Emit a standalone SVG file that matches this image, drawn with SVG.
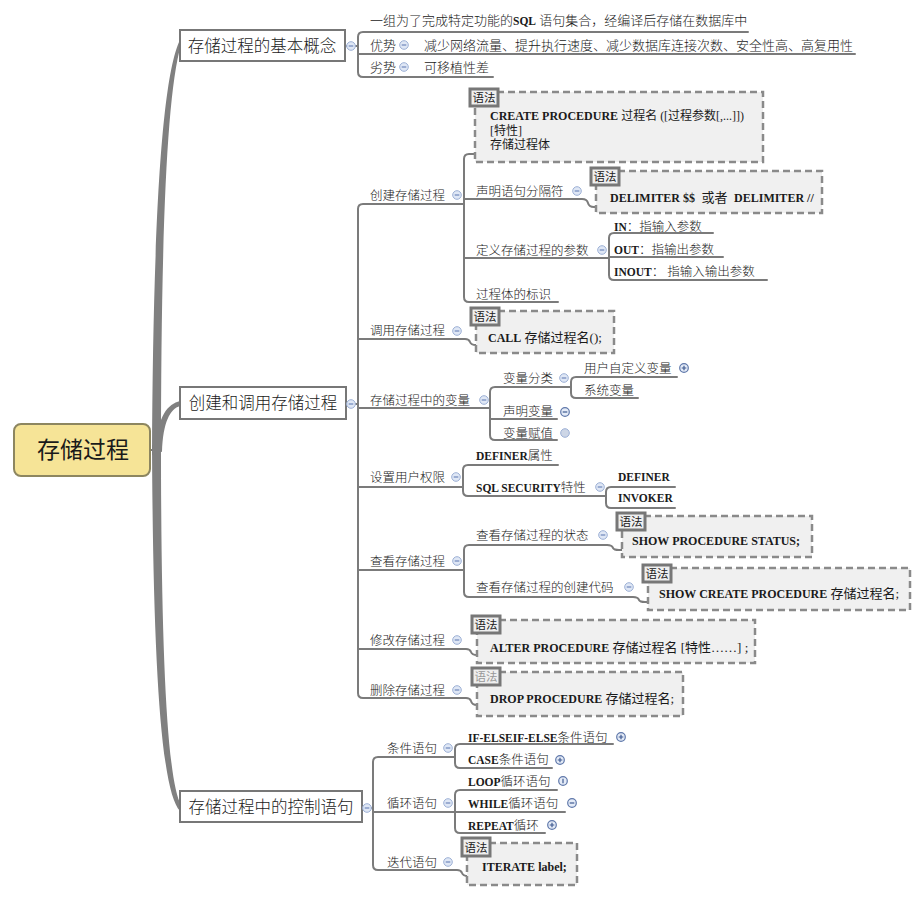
<svg xmlns="http://www.w3.org/2000/svg" width="924" height="900" viewBox="0 0 924 900">
<style>
.ln{fill:none;stroke:#7b7b7b;stroke-width:2;stroke-linecap:round;stroke-linejoin:round}
.t{font-family:"Liberation Serif","Noto Sans CJK SC",serif;font-size:12.5px;fill:#1a1a1a;font-weight:300}
.t13{font-size:13px}
.b{font-weight:bold;font-size:11.5px}
.big{font-size:16.5px}
.root{font-size:23px;font-weight:400}
.box{fill:#ffffff;stroke:#777;stroke-width:2}
.co{fill:#f0f0f0;stroke:#8a8a8a;stroke-width:2.5;stroke-dasharray:7 4}
.lab{fill:#efefef;stroke:#777;stroke-width:3}
.lt{font-family:"Noto Sans CJK SC",sans-serif;font-size:11.5px;fill:#222;text-anchor:middle}
.ct{font-family:"Liberation Serif","Noto Sans CJK SC",serif;font-size:13px;fill:#1a1a1a;white-space:pre}
.ct .b,.ct.b{font-size:12px}
.c1{font-size:12px}
.ic{fill:#dfe7f5;stroke:#9cb0d6;stroke-width:1}
.icd{fill:#e4ebf7;stroke:#5f78aa;stroke-width:1.2}
.is{stroke:#6f87bb;stroke-width:1.2;fill:none}
</style>
<defs>
<g id="mi"><circle class="ic" r="4.3"/><path class="is" d="M-2.3,0H2.3"/></g>
<g id="md"><circle class="icd" r="4.3"/><path class="is" d="M-2.3,0H2.3" style="stroke:#3f5a90"/></g>
<g id="pl"><circle class="icd" r="4.3"/><path class="is" d="M-2.3,0H2.3M0,-2.3V2.3" style="stroke:#3f5a90"/></g>
<g id="em"><circle class="ic" r="4.3" style="fill:#cdd6e6"/></g>
<g id="vb"><circle class="icd" r="4.3"/><path class="is" d="M0,-2.3V2.3" style="stroke:#3f5a90"/></g>
</defs>

<g id="connectors">
<path d="M150,450 L157,450" class="ln"/>
<path d="M152,455 C153,250 160,80 180,40 L181,45 C166,95 161,250 161,455 Z" fill="#808080"/>
<path d="M152,445 C153,650 160,790 180,811 L181,805 C167,780 161,650 161,445 Z" fill="#808080"/>
<path d="M155,450 C158,415 168,404 180,401 L180,406 C170,409 163,422 162,452 Z" fill="#808080"/>
<path class="ln" d="M346,46 H358"/>
<path class="ln" d="M748,32 H363 Q358,32 358,37 V72 Q358,77 363,77 H493"/>
<path class="ln" d="M358,54 H855"/>
<path class="ln" d="M346,404 H358"/>
<path class="ln" d="M464,204 H363 Q358,204 358,209 V693 Q358,698 363,698 H466 Q470,698 471,701 Q472,705 477,705 H675"/>
<path class="ln" d="M358,339 H465 Q469,339 470,342 Q471,345 476,345 H605"/>
<path class="ln" d="M358,408 H490"/>
<path class="ln" d="M358,487 H463"/>
<path class="ln" d="M358,570 H464"/>
<path class="ln" d="M358,649 H466 Q470,649 471,652 Q472,655 477,655 H748"/>
<path class="ln" d="M755,154 H469 Q464,154 464,159 V297 Q464,302 469,302 H558"/>
<path class="ln" d="M464,199 H582 Q587,199 588,203 Q589,207 594,207 H815"/>
<path class="ln" d="M464,258 H609"/>
<path class="ln" d="M713,233 H614 Q609,233 609,238 V275 Q609,280 614,280 H767"/>
<path class="ln" d="M609,257 H723"/>
<path class="ln" d="M571,387 H495 Q490,387 490,392 V435 Q490,440 495,440 H557"/>
<path class="ln" d="M490,419 H557"/>
<path class="ln" d="M677,377 H576 Q571,377 571,382 V393 Q571,398 576,398 H638"/>
<path class="ln" d="M558,465 H468 Q463,465 463,470 V491 Q463,496 468,496 H606"/>
<path class="ln" d="M675,487 H611 Q606,487 606,492 V503 Q606,508 611,508 H675"/>
<path class="ln" d="M607,545 H469 Q464,545 464,550 V592 Q464,597 469,597 H633 Q638,597 639,600 Q640,602 645,602 H903"/>
<path class="ln" d="M607,545 Q612,545 613,548 Q614,550 619,550 H805"/>
<path class="ln" d="M362,808 H373"/>
<path class="ln" d="M455,757 H378 Q373,757 373,762 V865 Q373,870 378,870 H457 Q461,870 462,873 Q463,876 468,876 H570"/>
<path class="ln" d="M373,812 H455"/>
<path class="ln" d="M613,744 H460 Q455,744 455,749 V763 Q455,768 460,768 H552"/>
<path class="ln" d="M557,790 H460 Q455,790 455,795 V828 Q455,833 460,833 H545"/>
<path class="ln" d="M455,812 H565"/>
</g>

<g id="root">
<rect x="14" y="424" width="136" height="52" rx="7" fill="#f6e497" stroke="#8d8660" stroke-width="2"/>
<text class="t root" x="83" y="458" text-anchor="middle">存储过程</text>
</g>

<g id="n-concept">
<rect class="box" x="180" y="30" width="165" height="31"/>
<text class="t big" x="262" y="52" text-anchor="middle">存储过程的基本概念</text>
<use href="#mi" x="351" y="46"/>
</g>
<g id="n-def"><text class="t t13" x="370" y="25">一组为了完成特定功能的<tspan class="b">SQL</tspan> 语句集合，经编译后存储在数据库中</text></g>
<g id="n-adv"><text class="t t13" x="370" y="50">优势</text><use href="#mi" x="404" y="45"/>
<text class="t t13" x="424" y="50">减少网络流量、提升执行速度、减少数据库连接次数、安全性高、高复用性</text></g>
<g id="n-dis"><text class="t t13" x="370" y="72">劣势</text><use href="#mi" x="404" y="67"/>
<text class="t t13" x="424" y="72">可移植性差</text></g>

<g id="n-createcall">
<rect class="box" x="180" y="387" width="166" height="32"/>
<text class="t big" x="263" y="409" text-anchor="middle">创建和调用存储过程</text>
<use href="#mi" x="351" y="404"/>
</g>

<g id="n-create"><text class="t" x="370" y="199.5">创建存储过程</text><use href="#mi" x="457" y="195"/></g>
<g id="n-syntax1">
<rect class="co" x="475" y="92" width="288" height="70"/>
<rect class="lab" x="470" y="89" width="28" height="17"/><text class="lt" x="484" y="101.5">语法</text>
<text class="ct c1" x="490" y="120"><tspan class="b">CREATE PROCEDURE</tspan> 过程名 ([过程参数[,...]])</text>
<text class="ct c1" x="490" y="134.5">[特性]</text>
<text class="ct c1" x="490" y="149">存储过程体</text>
</g>
<g id="n-delim"><text class="t" x="476" y="196">声明语句分隔符</text><use href="#mi" x="577" y="191"/></g>
<g id="n-syntax2">
<rect class="co" x="596" y="171" width="226" height="42"/>
<rect class="lab" x="591" y="168" width="28" height="17"/><text class="lt" x="605" y="180.5">语法</text>
<text class="ct" x="610" y="201.5"><tspan class="b">DELIMITER $$</tspan>  或者  <tspan class="b">DELIMITER //</tspan></text>
</g>
<g id="n-params"><text class="t" x="476" y="254.5">定义存储过程的参数</text><use href="#mi" x="602" y="250"/></g>
<g id="n-in"><text class="t" x="614" y="230.5"><tspan class="b">IN</tspan>：指输入参数</text></g>
<g id="n-out"><text class="t" x="614" y="253.5"><tspan class="b">OUT</tspan>：指输出参数</text></g>
<g id="n-inout"><text class="t" x="614" y="275.5"><tspan class="b">INOUT</tspan>： 指输入输出参数</text></g>
<g id="n-body"><text class="t" x="476" y="298.5">过程体的标识</text></g>

<g id="n-call"><text class="t" x="370" y="334.5">调用存储过程</text><use href="#mi" x="457" y="331"/></g>
<g id="n-syntax3">
<rect class="co" x="476" y="311" width="138" height="42"/>
<rect class="lab" x="471" y="308" width="28" height="17"/><text class="lt" x="485" y="320.5">语法</text>
<text class="ct" x="488" y="341.5"><tspan class="b">CALL</tspan> 存储过程名();</text>
</g>

<g id="n-vars"><text class="t" x="370" y="404.5">存储过程中的变量</text><use href="#mi" x="484" y="400"/></g>
<g id="n-vclass"><text class="t" x="503" y="382.5">变量分类</text><use href="#mi" x="564" y="378"/></g>
<g id="n-uvar"><text class="t" x="584" y="372.5">用户自定义变量</text><use href="#pl" x="684" y="368"/></g>
<g id="n-svar"><text class="t" x="584" y="394.5">系统变量</text></g>
<g id="n-vdecl"><text class="t" x="503" y="415.5">声明变量</text><use href="#md" x="565" y="412"/></g>
<g id="n-vset"><text class="t" x="503" y="437.5">变量赋值</text><use href="#em" x="565" y="433"/></g>

<g id="n-priv"><text class="t" x="370" y="481.5">设置用户权限</text><use href="#mi" x="456" y="477"/></g>
<g id="n-definerattr"><text class="t" x="476" y="459.5"><tspan class="b">DEFINER</tspan>属性</text></g>
<g id="n-sqlsec"><text class="t" x="476" y="491.5"><tspan class="b">SQL SECURITY</tspan>特性</text><use href="#mi" x="600" y="487"/></g>
<g id="n-definer"><text class="t b" x="618" y="481">DEFINER</text></g>
<g id="n-invoker"><text class="t b" x="618" y="502">INVOKER</text></g>

<g id="n-view"><text class="t" x="370" y="565.5">查看存储过程</text><use href="#mi" x="457" y="561"/></g>
<g id="n-status"><text class="t" x="476" y="539.5">查看存储过程的状态</text><use href="#mi" x="603" y="535"/></g>
<g id="n-syntax4">
<rect class="co" x="622" y="516" width="190" height="41"/>
<rect class="lab" x="617" y="513" width="28" height="17"/><text class="lt" x="631" y="525.5">语法</text>
<text class="ct b" x="632" y="545">SHOW PROCEDURE STATUS;</text>
</g>
<g id="n-code"><text class="t" x="476" y="591.5">查看存储过程的创建代码</text><use href="#mi" x="629" y="587"/></g>
<g id="n-syntax5">
<rect class="co" x="648" y="568" width="262" height="42"/>
<rect class="lab" x="643" y="565" width="28" height="17"/><text class="lt" x="657" y="577.5">语法</text>
<text class="ct" x="659" y="597.5"><tspan class="b">SHOW CREATE PROCEDURE</tspan> 存储过程名;</text>
</g>

<g id="n-alter"><text class="t" x="370" y="644.5">修改存储过程</text><use href="#mi" x="457" y="640"/></g>
<g id="n-syntax6">
<rect class="co" x="477" y="620" width="278" height="43"/>
<rect class="lab" x="472" y="616" width="28" height="17"/><text class="lt" x="486" y="628.5">语法</text>
<text class="ct" x="490" y="652"><tspan class="b">ALTER PROCEDURE</tspan> 存储过程名 [特性……] ;</text>
</g>
<g id="n-drop"><text class="t" x="370" y="694.5">删除存储过程</text><use href="#mi" x="457" y="690"/></g>
<g id="n-syntax7">
<rect class="co" x="477" y="672" width="206" height="44"/>
<rect class="lab" x="472" y="668" width="28" height="17"/><text class="lt" x="486" y="680.5" style="fill:#999">语法</text>
<text class="ct" x="490" y="702.5"><tspan class="b">DROP PROCEDURE</tspan> 存储过程名;</text>
</g>

<g id="n-control">
<rect class="box" x="180" y="791" width="182" height="31"/>
<text class="t big" x="271" y="813" text-anchor="middle">存储过程中的控制语句</text>
<use href="#mi" x="367" y="808"/>
</g>
<g id="n-cond"><text class="t" x="387" y="752.5">条件语句</text><use href="#mi" x="448" y="748"/></g>
<g id="n-if"><text class="t" x="468" y="741.5"><tspan class="b">IF-ELSEIF-ELSE</tspan>条件语句</text><use href="#pl" x="621" y="737"/></g>
<g id="n-case"><text class="t" x="468" y="763.5"><tspan class="b">CASE</tspan>条件语句</text><use href="#pl" x="560" y="760"/></g>
<g id="n-loopst"><text class="t" x="387" y="807.5">循环语句</text><use href="#mi" x="448" y="803"/></g>
<g id="n-loop"><text class="t" x="468" y="785.5"><tspan class="b">LOOP</tspan>循环语句</text><use href="#vb" x="563" y="781"/></g>
<g id="n-while"><text class="t" x="468" y="807.5"><tspan class="b">WHILE</tspan>循环语句</text><use href="#md" x="572" y="803"/></g>
<g id="n-repeat"><text class="t" x="468" y="829.5"><tspan class="b">REPEAT</tspan>循环</text><use href="#pl" x="552" y="825"/></g>
<g id="n-iter"><text class="t" x="387" y="866.5">迭代语句</text><use href="#mi" x="448" y="862"/></g>
<g id="n-syntax8">
<rect class="co" x="467" y="843" width="110" height="42"/>
<rect class="lab" x="462" y="838" width="28" height="18"/><text class="lt" x="476" y="851.5">语法</text>
<text class="ct b" x="482" y="871">ITERATE label;</text>
</g>
</svg>
